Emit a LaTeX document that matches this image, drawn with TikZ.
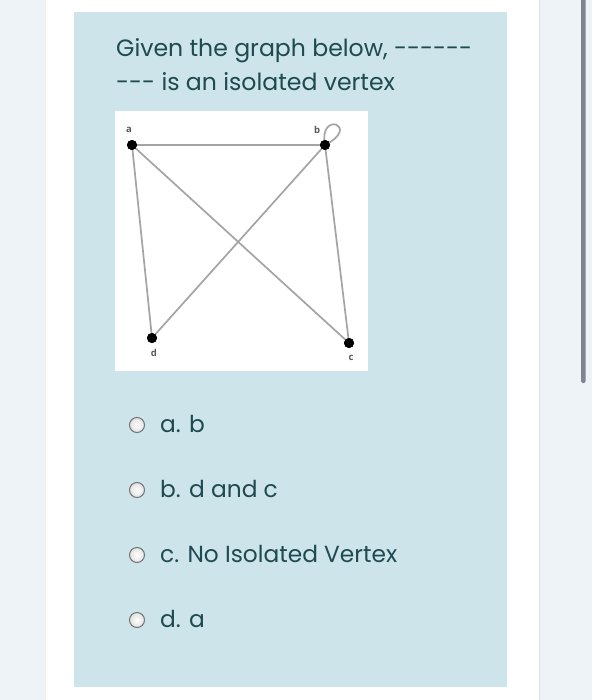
\documentclass[tikz,border=0pt]{standalone}
\usepackage{fontspec}
\setmainfont{Poppins}
\newfontfamily\labelfont{Open Sans}
\definecolor{outerbg}{HTML}{EEF3F7}
\definecolor{teal}{HTML}{CCE4EA}
\definecolor{txt}{HTML}{1E4A50}
\definecolor{edge}{HTML}{A4A4A4}
\definecolor{scroll}{HTML}{7E858C}
\begin{document}
\begin{tikzpicture}[x=1pt,y=-1pt,
  qtext/.style={anchor=base west,inner sep=0pt,text=txt,font=\fontsize{23.6}{28}\selectfont},
  opttext/.style={anchor=west,inner sep=0pt,text=txt,font=\fontsize{23.3}{28}\selectfont},
  vert/.style={circle,fill=black,inner sep=0pt,minimum size=10pt},
  vlabel/.style={inner sep=0pt,font=\labelfont\fontsize{9.5}{10}\selectfont\bfseries,text=black!65},
  gedge/.style={draw=edge,line width=1.7pt},
  radio/.style={circle,draw=black!55,line width=1pt,inner color=white,outer color=black!12,minimum size=15pt,inner sep=0pt}]
\useasboundingbox (0,0) rectangle (592,700);
\fill[outerbg] (0,0) rectangle (592,700);
\fill[white] (46,0) rectangle (539,700);
\draw[black!12,line width=1pt] (539.5,0) -- (539.5,700);
\draw[black!6,line width=1pt] (45.5,0) -- (45.5,700);
\fill[scroll,rounded corners=1.5pt] (581,-3) rectangle (585.5,383);
\fill[teal] (74,12) rectangle (507,687);
\node[qtext] (q1) at (116,57) {Given the graph below, -{}-{}-{}-{}-{}-};
\node[qtext] (q2) at (116,91) {-{}-{}- is an isolated vertex};
\fill[white] (115,111) rectangle (368,371);
\node[vert] (a) at (132,145) {};
\node[vert] (b) at (325,145) {};
\node[vert] (d) at (152,338) {};
\node[vert] (c) at (349,343) {};
\node[vlabel] (la) at (129,130) {a};
\node[vlabel] (lb) at (317,130) {b};
\node[vlabel] (ld) at (154,353) {d};
\node[vlabel] (lc) at (351,358) {c};
\draw[gedge] (a) -- (b);
\draw[gedge] (a) -- (d);
\draw[gedge] (a) -- (c);
\draw[gedge] (b) -- (d);
\draw[gedge] (b) -- (c);
\draw[gedge] (b.center) .. controls (318,110) and (362,126) .. (b.center);
\node[vert] at (a) {};
\node[vert] at (b) {};
\node[vert] at (d) {};
\node[vert] at (c) {};
\node[radio] (r1) at (137,425) {};
\node[radio] (r2) at (137,490) {};
\node[radio] (r3) at (137,555) {};
\node[radio] (r4) at (137,620) {};
\node[opttext] (o1) at (160,424) {a. b};
\node[opttext] (o2) at (160,489) {b. d and c};
\node[opttext] (o3) at (160,554) {c. No Isolated Vertex};
\node[opttext] (o4) at (160,619) {d. a};
\end{tikzpicture}
\end{document}
